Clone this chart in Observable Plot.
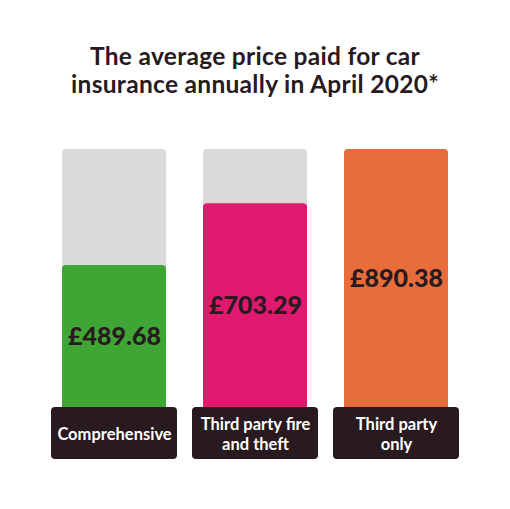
<!DOCTYPE html>
<html>
<head>
<meta charset="utf-8">
<script src="https://cdn.jsdelivr.net/npm/d3@7"></script>
<script src="https://cdn.jsdelivr.net/npm/@observablehq/plot@0.6"></script>
<style>
  html, body { margin: 0; padding: 0; background: #ffffff; }
  #wrap { width: 510px; }
  #title {
    box-sizing: border-box;
    height: 120px;
    padding-top: 42px;
    font-family: Lato, "Noto Sans", sans-serif;
    font-weight: 700;
    font-size: 24.5px;
    letter-spacing: 0.3px;
    line-height: 28px;
    color: #281a1f;
    text-align: center;
  }
</style>
</head>
<body>
<div id="wrap">
  <div id="title">The average price paid for car<br>insurance annually in April 2020*</div>
  <div id="chart"></div>
</div>
<script>
const categories = ["Comprehensive", "Third party fire\nand theft", "Third party\nonly"];
const values = [489.68, 703.29, 890.38];
const valueLabels = ["£489.68", "£703.29", "£890.38"];
const colors = ["#3fa535", "#e0196f", "#e96d3b"];

const data = categories.map((c, i) => ({cat: c, value: values[i], label: valueLabels[i], color: colors[i]}));
const maxValue = d3.max(values);

const dark = "#281a1f";

const chart = Plot.plot({
  width: 510,
  height: 389,
  marginTop: 29,
  marginBottom: 102,
  marginLeft: 24,
  marginRight: 25,
  style: {background: "#ffffff"},
  x: {domain: categories, padding: 0.2635, axis: null},
  y: {domain: [0, maxValue], axis: null},
  marks: [
    Plot.barY(data, {x: "cat", y: () => maxValue, fill: "#dadad8", rx: 4, insetBottom: -6}),
    Plot.barY(data, {x: "cat", y: "value", fill: "color", rx: 4, insetBottom: -6}),
    Plot.barY(data, {x: "cat", y1: () => 0, y2: () => 0, insetBottom: -52, insetLeft: -11, insetRight: -11, fill: dark, rx: 4}),
    Plot.text(data, {x: "cat", y: d => d.value / 2, text: "label", fill: dark, fontSize: 25, fontWeight: 900, fontFamily: "Lato, sans-serif", letterSpacing: "1px"}),
    Plot.text(data, {x: "cat", y: () => 0, dy: 26, text: "cat", fill: "#ffffff", fontSize: 16.5, fontWeight: 700, fontFamily: "Lato, sans-serif", lineHeight: 1.22, lineAnchor: "middle"})
  ]
});
document.getElementById("chart").appendChild(chart);
</script>
</body>
</html>
